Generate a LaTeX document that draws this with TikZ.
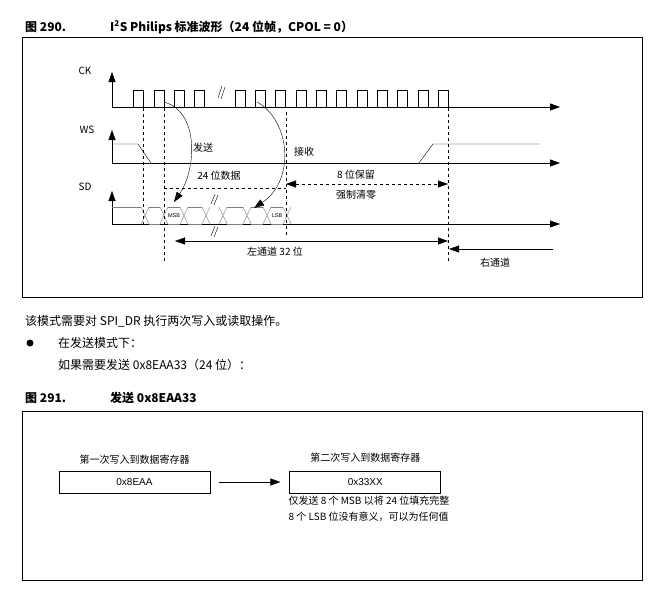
\documentclass[tikz,border=0pt]{standalone}
\usepackage{fontspec}
\setmainfont{Liberation Sans}
\newfontfamily\cjk{Noto Sans CJK SC}
\usetikzlibrary{positioning,arrows.meta}

\begin{document}
\begin{tikzpicture} [
        x=1pt, y=-1pt,
        font=\cjk\fontsize{10}{11}\selectfont,
        line/.style={draw, -{Triangle[length=10pt,width=7pt]}},
        dline/.style={draw, dashed, {Triangle[length=10pt,width=7pt]}-{Triangle[length=10pt,width=7pt]}},
        vdash/.style={draw, dashed},
        sig/.style={draw, thin},
        bits/.style={draw, gray, thin},
        regbox/.style={draw, thick, minimum width=151pt, minimum height=22pt, inner sep=0pt, font=\fontsize{10}{11}\selectfont},
        caplabel/.style={font=\cjk\fontsize{10}{16}\selectfont},
        body/.style={font=\cjk\fontsize{12}{14}\selectfont, anchor=west, inner sep=0pt},
        ttl/.style={font=\cjk\bfseries\fontsize{12}{14}\selectfont, anchor=west, inner sep=0pt}
    ]
        \useasboundingbox (0,0) rectangle (666,589);

        % Titles and text
        \node[ttl] (t290) at (25,27) {图 290.};
        \node[ttl] (t290b) at (110,27) {I\textsuperscript{2}S Philips 标准波形（24 位帧，CPOL = 0）};
        \node[body] (p1) at (25,321) {该模式需要对 SPI\_DR 执行两次写入或读取操作。};
        \node[body] (p2) at (58,343) {在发送模式下：};
        \fill (30,343) circle (3.5pt);
        \node[body] (p3) at (58,365) {如果需要发送 0x8EAA33（24 位）：};
        \node[ttl] (t291) at (25,398) {图 291.};
        \node[ttl] (t291b) at (110,398) {发送 0x8EAA33};

        % Frames
        \draw (22,37) rectangle (642,297);
        \draw (22,411) rectangle (642,580);

        % Signal names
        \node (ck) at (85,71) {CK};
        \node (ws) at (87,130) {WS};
        \node (sd) at (85,187) {SD};

        % Axes
        \path[line] (112,107) -- (112,72);
        \path[line] (112,107) -- (560,107);
        \path[line] (112,163) -- (112,130);
        \path[line] (112,163) -- (560,163);
        \path[line] (112,224) -- (112,191);
        \path[line] (112,224) -- (560,224);

        % CK pulses
        \foreach \x in {133,154,174,194}
            \draw[sig] (\x,107) -- (\x,90) -- (\x+10,90) -- (\x+10,107);
        \foreach \k in {0,...,10}
            \draw[sig] (235+20.3*\k,107) -- (235+20.3*\k,90) -- (245+20.3*\k,90) -- (245+20.3*\k,107);
        \draw[sig] (218,98) -- (222,86) (221,99) -- (225,87);

        % WS
        \draw[sig] (112,144) -- (138,144) -- (151,163);
        \draw[sig] (419,163) -- (433,144) -- (540,144);

        % SD data cells
        \draw[bits] (112,207) -- (141,207);
        \foreach \c/\d in {145/164,164/184,184/206,223/247,247/267,267/287}
            \draw[bits] (\c+4,207) -- (\d-4,207) (\c+4,224) -- (\d-4,224);
        \foreach \c in {145,164,184,206,223,247,267,287}
            \draw[bits] (\c-4,207) -- (\c+4,224) (\c-4,224) -- (\c+4,207);
        \draw[sig] (211,204) -- (215,194) (214,205) -- (218,195);
        \draw[sig] (211,236) -- (215,226) (214,237) -- (218,227);
        \node[font=\fontsize{5.5}{5}\selectfont, inner sep=0pt] (msb) at (174,216) {MSB};
        \node[font=\fontsize{5.5}{5}\selectfont, inner sep=0pt] (lsb) at (277,216) {LSB};

        % Dashed guides
        \draw[vdash] (143,90) -- (143,225);
        \draw[vdash] (164,102) -- (164,263);
        \draw[vdash] (286,112) -- (286,237);
        \draw[vdash] (448,90) -- (448,263);

        % Transfer arrows
        \path[line] (164,102) .. controls (200,112) and (196,170) .. (174,202);
        \path[line] (257,102) .. controls (290,120) and (296,180) .. (254,208);
        \node (send) at (203,148) {发送};
        \node (recv) at (304,152) {接收};

        % Field arrows
        \draw[vdash] (164,188) -- (286,188);
        \node (d24) at (219,176) {24 位数据};
        \path[dline] (286,184) -- (448,184);
        \node (r8) at (356,175) {8 位保留};
        \node (zero) at (356,195) {强制清零};
        \draw[{Triangle[length=10pt,width=7pt]}-{Triangle[length=10pt,width=7pt]}] (175,241) -- (448,241);
        \node (left) at (275,252) {左通道 32 位};
        \path[line] (553,249) -- (449,249);
        \node (right) at (495,263) {右通道};

        % Register writes
        \node[regbox] (reg1) at (134.5,482) {0x8EAA};
        \node[regbox, right=79pt of reg1] (reg2) {0x33XX};
        \node[caplabel, above=3pt of reg1] (lab1) {第一次写入到数据寄存器};
        \node[caplabel, above=5pt of reg2] (lab2) {第二次写入到数据寄存器};
        \path[line] ([xshift=9pt]reg1.east) -- ([xshift=-9pt]reg2.west);
        \node[caplabel, below right=2pt and -1pt of reg2.south west, align=left, inner sep=0pt] (note) {仅发送 8 个 MSB 以将 24 位填充完整\\8 个 LSB 位没有意义，可以为任何值};
    \end{tikzpicture}
\end{document}
